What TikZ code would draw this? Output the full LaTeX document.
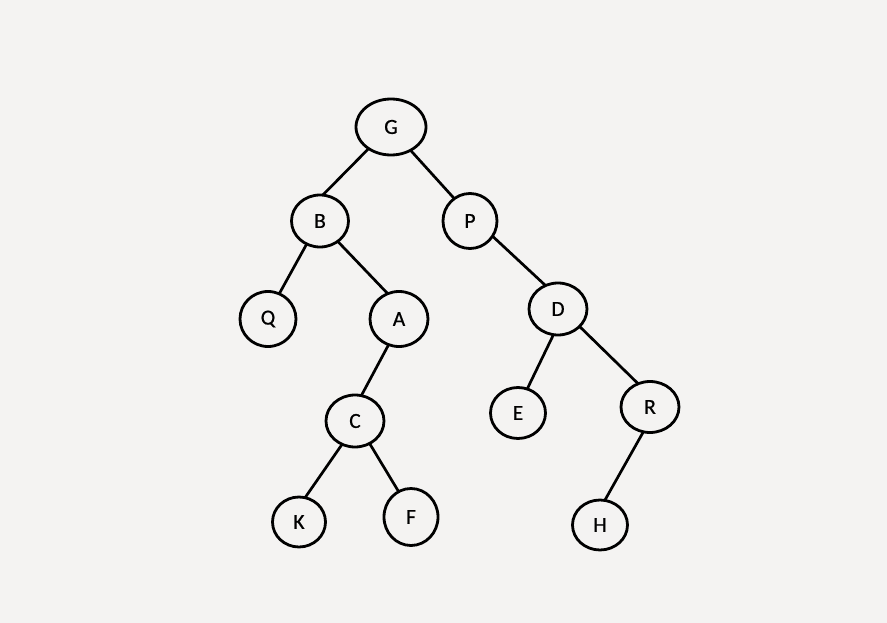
\documentclass[tikz,border=0pt]{standalone}
\usepackage{fontspec}
\setmainfont{Carlito}
\newfontface\labfont[FakeBold=0.7]{Carlito}
\usetikzlibrary{shapes.geometric}
\definecolor{bgc}{RGB}{244,243,242}
\begin{document}
\begin{tikzpicture}[x=1pt,y=-1pt,
  tnode/.style={ellipse,draw=black,line width=2.8pt,inner sep=0pt,outer sep=0pt,
    minimum width=#1,font=\labfont\fontsize{21.5}{21.5}\selectfont},
  tnode/.default={57pt},
  edge/.style={line width=2.7pt}]
\fill[bgc] (0,0) rectangle (887,623);
\useasboundingbox (0,0) rectangle (887,623);
\node[tnode=70pt,minimum height=56pt] (G) at (391,127) {G};
\node[tnode=57pt,minimum height=52pt] (B) at (320,221) {B};
\node[tnode=54pt,minimum height=55pt] (P) at (470,221) {P};
\node[tnode=56pt,minimum height=55pt] (Q) at (268,319) {Q};
\node[tnode=58pt,minimum height=55pt] (A) at (399,319) {A};
\node[tnode=58pt,minimum height=52pt] (D) at (558,309) {D};
\node[tnode=58pt,minimum height=52pt] (C) at (355,421) {C};
\node[tnode=55pt,minimum height=51pt] (E) at (518,413) {E};
\node[tnode=58pt,minimum height=51pt] (R) at (650,407) {R};
\node[tnode=53pt,minimum height=50pt] (K) at (299,522) {K};
\node[tnode=54pt,minimum height=57pt] (F) at (411,517) {F};
\node[tnode=55pt,minimum height=50pt] (H) at (600,525) {H};
\draw[edge] (G.224) -- (B.84);
\draw[edge] (G.310) -- (P.125);
\draw[edge] (B.240) -- (Q.66);
\draw[edge] (B.311) -- (A.114);
\draw[edge] (A.248) -- (C.76);
\draw[edge] (C.241) -- (K.76);
\draw[edge] (C.303) -- (F.116);
\draw[edge] (P.326) -- (D.118);
\draw[edge] (D.260) -- (E.69);
\draw[edge] (D.321) -- (R.117);
\draw[edge] (R.255) -- (H.79);
\end{tikzpicture}
\end{document}
